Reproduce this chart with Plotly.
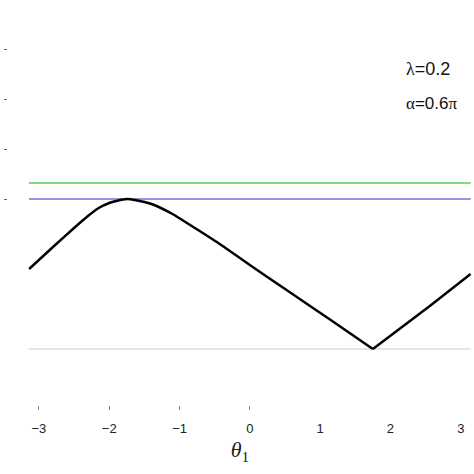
import plotly.graph_objects as go
import numpy as np

# curve data
theta = [-3.14, -2.80, -2.50, -2.32, -2.15, -2.00, -1.90, -1.75, -1.60, -1.42, -1.28,
         -1.10, -0.95, -0.47, 0.00, 0.47, 1.14, 1.75, 2.09, 2.56, 3.14]
value = [1.60, 2.04, 2.42, 2.64, 2.82, 2.92, 2.96, 3.00, 2.97, 2.91, 2.83,
         2.70, 2.57, 2.14, 1.68, 1.23, 0.59, 0.00, 0.36, 0.86, 1.50]

green_level = 3.32
blue_level = 3.0
gray_level = 0.0
line_x = [-np.pi, np.pi]

x_ticks = [-3, -2, -1, 0, 1, 2, 3]
x_marks = [-3, -2, -1, 0]
y_ticks = [3, 4, 5, 6]

# split at the minimum so the V-shaped corner stays sharp
imin = int(np.argmin(value))

fig = go.Figure()
fig.add_trace(go.Scatter(x=line_x, y=[gray_level, gray_level], mode="lines",
                         line=dict(color="#dcdcdc", width=1.5), hoverinfo="skip"))
fig.add_trace(go.Scatter(x=line_x, y=[green_level, green_level], mode="lines",
                         line=dict(color="#80dc80", width=2), hoverinfo="skip"))
fig.add_trace(go.Scatter(x=line_x, y=[blue_level, blue_level], mode="lines",
                         line=dict(color="#7272d6", width=1.5), hoverinfo="skip"))
fig.add_trace(go.Scatter(x=theta[:imin + 1], y=value[:imin + 1], mode="lines",
                         line=dict(color="black", width=2.5, shape="spline", smoothing=0.8)))
fig.add_trace(go.Scatter(x=theta[imin:], y=value[imin:], mode="lines",
                         line=dict(color="black", width=2.5)))

serif = "Liberation Serif"
W = H = 474
ml, mr, mt, mb = 8, 2, 0, 69
pw = W - ml - mr
ph = H - mt - mb

def paper_xy(px, py):
    return (px - ml) / pw, 1 - (py - mt) / ph

ax, ay = paper_xy(404, 69)
fig.add_annotation(x=ax, y=ay, xref="paper", yref="paper", showarrow=False,
                   xanchor="left", yanchor="middle",
                   text=f"<span style='font-family:{serif}'>λ</span>=0.2",
                   font=dict(family="Liberation Sans", size=18, color="#111"))
ax, ay = paper_xy(404, 103)
fig.add_annotation(x=ax, y=ay, xref="paper", yref="paper", showarrow=False,
                   xanchor="left", yanchor="middle",
                   text=f"<span style='font-family:{serif}'>α</span>=0.6<span style='font-family:{serif}'>π</span>",
                   font=dict(family="Liberation Sans", size=17, color="#111"))

xr = [-3.44, 3.16]
fig.update_layout(
    width=W, height=H, margin=dict(l=ml, r=mr, t=mt, b=mb),
    paper_bgcolor="white", plot_bgcolor="white", showlegend=False,
    xaxis=dict(range=xr, tickvals=x_ticks, ticks="", showgrid=False, zeroline=False,
               showline=False, ticklabelstandoff=14,
               tickfont=dict(family="Liberation Sans", size=13, color="#222"),
               title=dict(text="<i>θ</i><sub>1</sub>", standoff=6,
                          font=dict(family=serif, size=22, color="#222"))),
    xaxis2=dict(range=xr, overlaying="x", side="bottom", tickvals=x_marks,
                ticks="outside", ticklen=4, tickcolor="#888", showticklabels=False,
                showgrid=False, zeroline=False, showline=False),
    yaxis=dict(range=[-1.12, 6.98], tickvals=y_ticks, showticklabels=False,
               ticks="outside", ticklen=3, tickcolor="#666", showgrid=False,
               zeroline=False, showline=False),
)
# empty trace to activate xaxis2
fig.add_trace(go.Scatter(x=[], y=[], xaxis="x2", showlegend=False))

fig.write_html("out.html", config={"displayModeBar": False},
               post_script="document.body.style.margin='0';")
